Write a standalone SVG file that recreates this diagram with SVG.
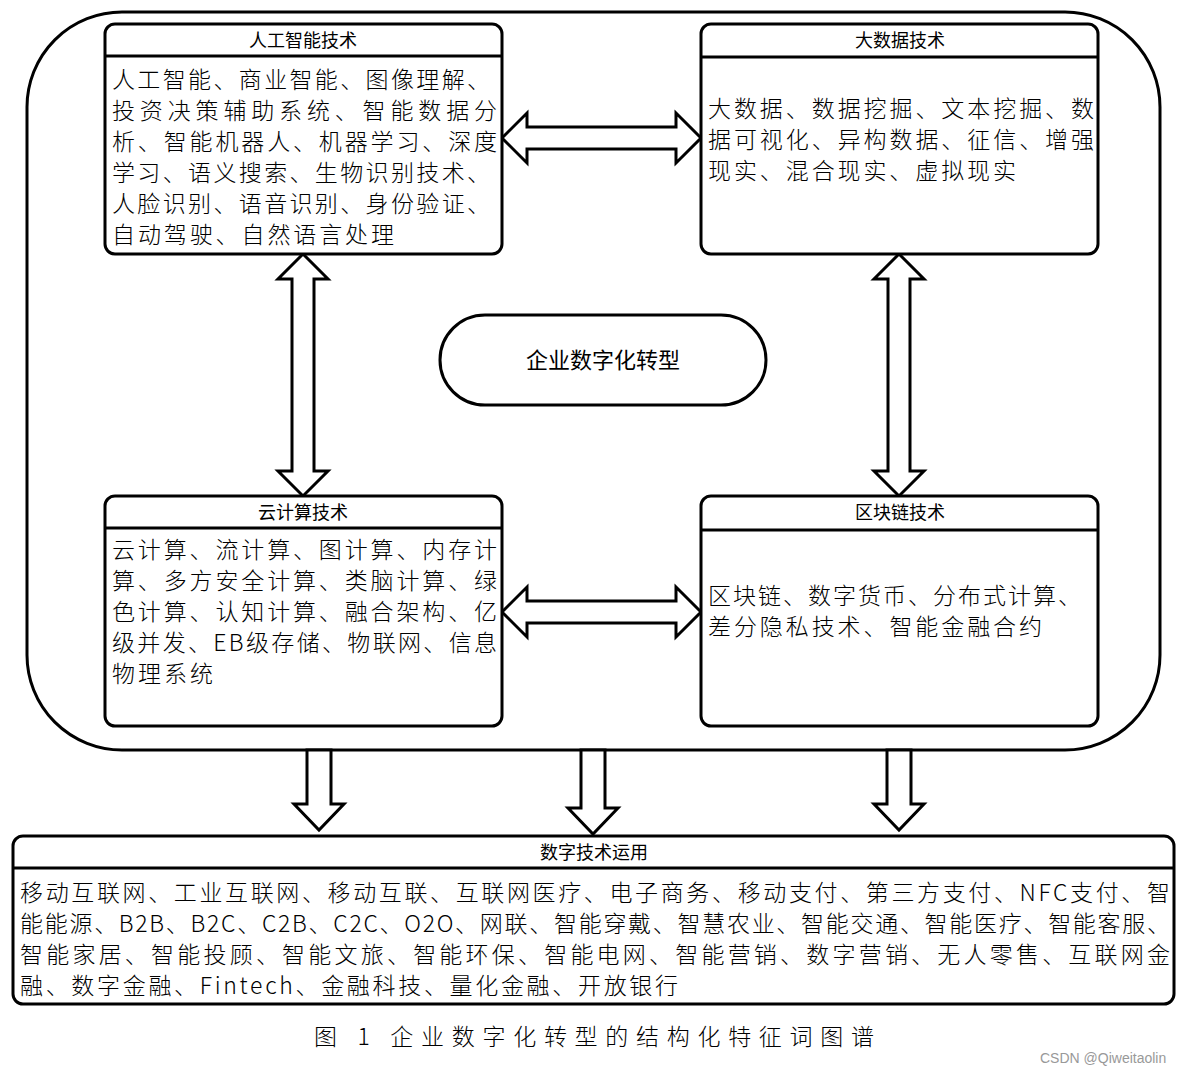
<svg xmlns="http://www.w3.org/2000/svg" width="1196" height="1075" viewBox="0 0 1196 1075">
<style>
.box{fill:#fff;stroke:#000;stroke-width:3}
.hd{font-family:"Noto Sans CJK SC",sans-serif;font-size:18px;text-anchor:middle;fill:#000}
.tx{font-family:"Noto Sans CJK SC",sans-serif;font-size:23px;fill:#000;font-weight:300}
.ar{fill:#fff;stroke:#000;stroke-width:3;stroke-linejoin:miter}
</style>
<rect width="1196" height="1075" fill="#fff"/>
<rect x="27" y="12" width="1133" height="738" rx="95" class="box"/>
<g id="connectors">
<path class="ar" d="M502,138 L527,113 L527,127 L676,127 L676,113 L701,138 L676,163 L676,149 L527,149 L527,163 Z"/>
<path class="ar" d="M502,612 L527,587 L527,601 L676,601 L676,587 L701,612 L676,637 L676,623 L527,623 L527,637 Z"/>
<path class="ar" d="M303,254 L328,279 L314,279 L314,471 L328,471 L303,496 L278,471 L292,471 L292,279 L278,279 Z"/>
<path class="ar" d="M899,254 L924,279 L910,279 L910,471 L924,471 L899,496 L874,471 L888,471 L888,279 L874,279 Z"/>
<path class="ar" d="M307,750 L331,750 L331,804 L344,804 L319,830 L294,804 L307,804 Z"/>
<path class="ar" d="M581,750 L605,750 L605,808 L618,808 L593,834 L568,808 L581,808 Z"/>
<path class="ar" d="M887,750 L911,750 L911,804 L924,804 L899,830 L874,804 L887,804 Z"/>
</g>
<g id="ai">
<rect x="105" y="24" width="397" height="230" rx="10" class="box"/>
<line x1="105" y1="56" x2="502" y2="56" stroke="#000" stroke-width="3"/>
<text x="303" y="47" class="hd">人工智能技术</text>
<text class="tx" x="112" y="88" textLength="378" lengthAdjust="spacing">人工智能、商业智能、图像理解、</text>
<text class="tx" x="112" y="119" textLength="385" lengthAdjust="spacing">投资决策辅助系统、智能数据分</text>
<text class="tx" x="112" y="150" textLength="385" lengthAdjust="spacing">析、智能机器人、机器学习、深度</text>
<text class="tx" x="112" y="181" textLength="378" lengthAdjust="spacing">学习、语义搜索、生物识别技术、</text>
<text class="tx" x="112" y="212" textLength="378" lengthAdjust="spacing">人脸识别、语音识别、身份验证、</text>
<text class="tx" x="112" y="243" textLength="282" lengthAdjust="spacing">自动驾驶、自然语言处理</text>
</g>
<g id="bigdata">
<rect x="701" y="24" width="397" height="230" rx="10" class="box"/>
<line x1="701" y1="57" x2="1098" y2="57" stroke="#000" stroke-width="3"/>
<text x="900" y="47" class="hd">大数据技术</text>
<text class="tx" x="708" y="117" textLength="386" lengthAdjust="spacing">大数据、数据挖掘、文本挖掘、数</text>
<text class="tx" x="708" y="148" textLength="386" lengthAdjust="spacing">据可视化、异构数据、征信、增强</text>
<text class="tx" x="708" y="179" textLength="308" lengthAdjust="spacing">现实、混合现实、虚拟现实</text>
</g>
<g id="center">
<rect x="440" y="315" width="326" height="90" rx="45" class="box"/>
<text x="603" y="368" class="hd" style="font-size:22px">企业数字化转型</text>
</g>
<g id="cloud">
<rect x="105" y="496" width="397" height="230" rx="10" class="box"/>
<line x1="105" y1="528" x2="502" y2="528" stroke="#000" stroke-width="3"/>
<text x="303" y="519" class="hd">云计算技术</text>
<text class="tx" x="112" y="558" textLength="385" lengthAdjust="spacing">云计算、流计算、图计算、内存计</text>
<text class="tx" x="112" y="589" textLength="385" lengthAdjust="spacing">算、多方安全计算、类脑计算、绿</text>
<text class="tx" x="112" y="620" textLength="385" lengthAdjust="spacing">色计算、认知计算、融合架构、亿</text>
<text class="tx" x="112" y="651" textLength="385" lengthAdjust="spacing">级并发、EB级存储、物联网、信息</text>
<text class="tx" x="112" y="682" textLength="101" lengthAdjust="spacing">物理系统</text>
</g>
<g id="blockchain">
<rect x="701" y="496" width="397" height="230" rx="10" class="box"/>
<line x1="701" y1="530" x2="1098" y2="530" stroke="#000" stroke-width="3"/>
<text x="900" y="519" class="hd">区块链技术</text>
<text class="tx" x="708" y="604" textLength="373" lengthAdjust="spacing">区块链、数字货币、分布式计算、</text>
<text class="tx" x="708" y="635" textLength="334" lengthAdjust="spacing">差分隐私技术、智能金融合约</text>
</g>
<g id="apps">
<rect x="13" y="836" width="1161" height="168" rx="10" class="box"/>
<line x1="13" y1="868" x2="1174" y2="868" stroke="#000" stroke-width="3"/>
<text x="594" y="859" class="hd">数字技术运用</text>
<text class="tx" x="20" y="901" textLength="1150" lengthAdjust="spacing">移动互联网、工业互联网、移动互联、互联网医疗、电子商务、移动支付、第三方支付、NFC支付、智</text>
<text class="tx" x="20" y="932" textLength="1150" lengthAdjust="spacing">能能源、B2B、B2C、C2B、C2C、O2O、网联、智能穿戴、智慧农业、智能交通、智能医疗、智能客服、</text>
<text class="tx" x="20" y="963" textLength="1150" lengthAdjust="spacing">智能家居、智能投顾、智能文旅、智能环保、智能电网、智能营销、数字营销、无人零售、互联网金</text>
<text class="tx" x="20" y="994" textLength="658" lengthAdjust="spacing">融、数字金融、Fintech、金融科技、量化金融、开放银行</text>
</g>
<text x="314" y="1045" style="font-family:'Noto Sans CJK SC',sans-serif;font-size:23px;font-weight:300" textLength="560" lengthAdjust="spacing">图 1  企业数字化转型的结构化特征词图谱</text>
<text x="1040" y="1063" style="font-family:'Liberation Sans',sans-serif;font-size:14px;fill:#999">CSDN @Qiweitaolin</text>
</svg>
